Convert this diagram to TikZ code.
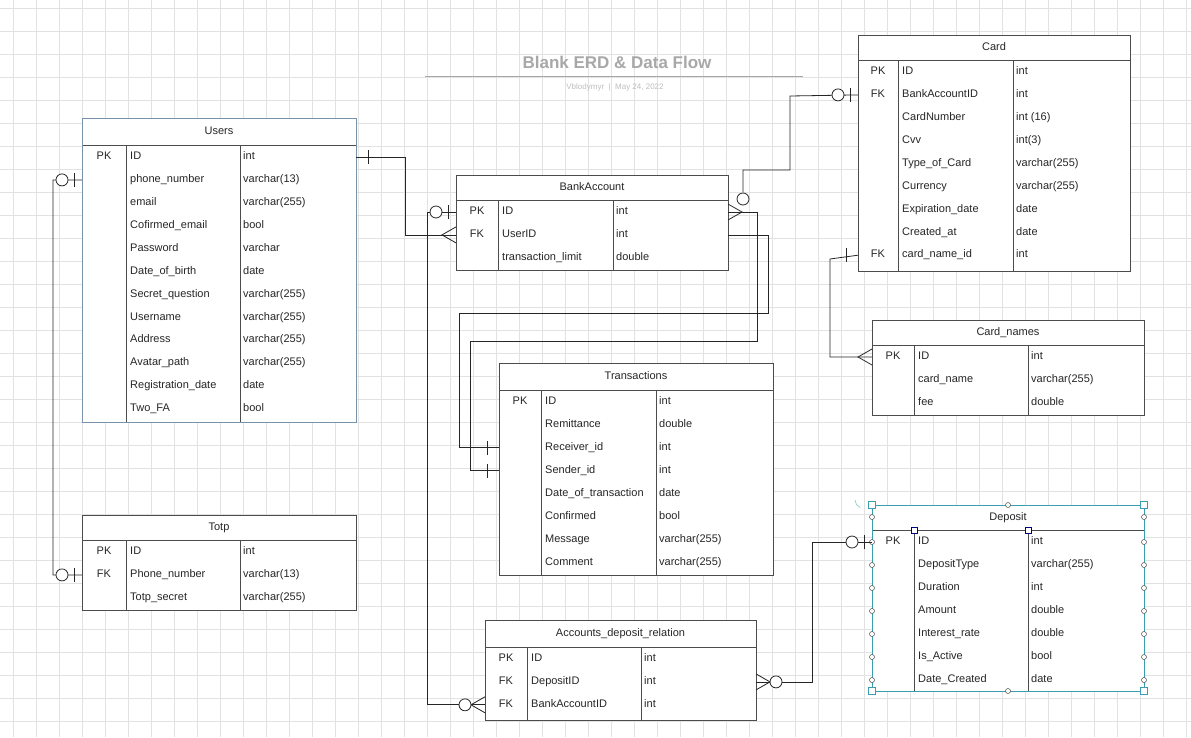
\documentclass[tikz,border=0pt]{standalone}
\usepackage{fontspec}
\setmainfont{Liberation Sans}
\begin{document}
\definecolor{gridc}{HTML}{E2E2E2}
\definecolor{ublue}{HTML}{7A93AC}
\definecolor{teal}{HTML}{3A9DB0}
\definecolor{ttl}{HTML}{A8A8A8}
\newcommand\erdtbl[9]{%
  \fill[white] (#2,#3) rectangle (#4,#5);
  \draw[tbl] (#2,#6) -- (#4,#6) (#7,#6) -- (#7,#5) (#8,#6) -- (#8,#5);
  \draw[tbl,draw=\tblcol] (#2,#3) rectangle (#4,#5);
  \node[txt] (#1) at ({(#2+#4)/2},{(#3+#6)/2}) {#9};
  \foreach \k/\n/\t [count=\i] in \rowlist {
    \pgfmathsetmacro\yy{#6+12+(\i-1)*22.9}
    \node[txt] (#1-k\i) at ({(#2+#7)/2},\yy) {\k};
    \node[txt,anchor=west] (#1-n\i) at (#7+4,\yy) {\n};
    \node[txt,anchor=west] (#1-t\i) at (#8+3,\yy) {\t};
    \coordinate (#1-L\i) at (#2,\yy);
    \coordinate (#1-R\i) at (#4,\yy);
  }}
\begin{tikzpicture}[x=1pt,y=-1pt,
  tbl/.style={draw=black!70,line width=0.8pt},
  txt/.style={font=\fontsize{11}{13}\selectfont,inner sep=0pt,text height=8pt,text depth=2.5pt,text=black!85},
  con/.style={draw=black!85,line width=0.8pt},
  zo/.pic={\draw[con] (8,-7)--(8,7); \draw[con,fill=white] (20,0) circle (6);},
  bar/.pic={\draw[con] (12,-7)--(12,7);},
  crow/.pic={\draw[con] (0,-8)--(14,0)--(0,8);},
  zm/.pic={\draw[con] (0,-8)--(14,0)--(0,8); \draw[con,fill=white] (20,0) circle (6);},
  hc/.style={draw=black!70,fill=white,line width=0.5pt},
]
\useasboundingbox (0,0) rectangle (1191,737);
\fill[white] (0,0) rectangle (1191,737);
\foreach \g in {0,...,51} {\draw[gridc,line width=0.5pt] (\g*23+13,0) -- (\g*23+13,737);}
\foreach \g in {0,...,32} {\draw[gridc,line width=0.5pt] (0,\g*23+8) -- (1191,\g*23+8);}
% title
\node[font=\bfseries\fontsize{17}{19}\selectfont,text=ttl] (title) at (617,62) {Blank ERD \& Data Flow};
\draw[ttl,line width=1pt] (425,76) -- (803,76);
\node[font=\fontsize{8}{9}\selectfont,text=black!25] (sub) at (615,87) {Vblodymyr\ \ |\ \ May 24, 2022};
% tables
\def\tblcol{ublue}
\def\rowlist{PK/ID/int, /phone\_number/varchar(13), /email/varchar(255), /Cofirmed\_email/bool, /Password/varchar, /Date\_of\_birth/date, /Secret\_question/varchar(255), /Username/varchar(255), /Address/varchar(255), /Avatar\_path/varchar(255), /Registration\_date/date, /Two\_FA/bool}
\erdtbl{U}{82}{118}{356}{422}{145}{126}{240}{Users}
\def\tblcol{black!70}
\def\rowlist{PK/ID/int, FK/Phone\_number/varchar(13), /Totp\_secret/varchar(255)}
\erdtbl{T}{82}{515}{356}{610}{540}{126}{240}{Totp}
\def\rowlist{PK/ID/int, FK/UserID/int, /transaction\_limit/double}
\erdtbl{B}{456}{175}{728}{270}{200}{498}{613}{BankAccount}
\def\rowlist{PK/ID/int, /Remittance/double, /Receiver\_id/int, /Sender\_id/int, /Date\_of\_transaction/date, /Confirmed/bool, /Message/varchar(255), /Comment/varchar(255)}
\erdtbl{Tr}{499}{363}{773}{575}{390}{541}{656}{Transactions}
\def\rowlist{PK/ID/int, FK/BankAccountID/int, /CardNumber/int (16), /Cvv/int(3), /Type\_of\_Card/varchar(255), /Currency/varchar(255), /Expiration\_date/date, /Created\_at/date, FK/card\_name\_id/int}
\erdtbl{C}{858}{35}{1130}{271}{60}{898}{1013}{Card}
\def\rowlist{PK/ID/int, /card\_name/varchar(255), /fee/double}
\erdtbl{N}{872}{320}{1144}{415}{345}{914}{1028}{Card\_names}
\def\rowlist{PK/ID/int, FK/DepositID/int, FK/BankAccountID/int}
\erdtbl{A}{485}{620}{756}{720}{647}{527}{641}{Accounts\_deposit\_relation}
\def\tblcol{teal}
\def\rowlist{PK/ID/int, /DepositType/varchar(255), /Duration/int, /Amount/double, /Interest\_rate/double, /Is\_Active/bool, /Date\_Created/date}
\erdtbl{D}{872}{505}{1144}{691}{530}{914}{1028}{Deposit}
% deposit selection handles
\foreach \yy in {517,542,565,588,611,634,657,680} {
  \draw[hc] (872,\yy) circle (2.5); \draw[hc] (1144,\yy) circle (2.5);}
\draw[hc] (1008,505) circle (2.5); \draw[hc] (1008,691) circle (2.5);
\foreach \xx/\yy in {872/505,1144/505,872/691,1144/691}
  \draw[draw=teal,fill=white,line width=0.6pt] (\xx-3.5,\yy-3.5) rectangle (\xx+3.5,\yy+3.5);
\foreach \xx in {914,1028}
  \draw[draw=blue!50!black,fill=white,line width=0.6pt] (\xx-3,530-3) rectangle (\xx+3,530+3);
\draw[teal!60,line width=0.6pt] (855,500) arc (180:110:8);
% connectors
\coordinate (u1) at (405,157);
\draw[con] (U-R1) -- (u1) |- (B-L2);
\pic at (U-R1) {bar};
\pic[rotate=180] at (B-L2) {crow};
\coordinate (u2) at (53,180);
\draw[con] (U-L2) -- (u2) |- (T-L2);
\pic[rotate=180] at (U-L2) {zo};
\pic[rotate=180] at (T-L2) {zo};
\coordinate (b1) at (427,212);
\draw[con] (B-L1) -- (b1) |- (A-L3);
\pic[rotate=180] at (B-L1) {zo};
\pic[rotate=180] at (A-L3) {zm};
\coordinate (c1) at (790,96);
\coordinate (c2) at (790,170);
\coordinate (bkc) at (743,192);
\draw[con] (C-L2) -- (c1) -- (c2) -| (bkc);
\pic[rotate=180] at (C-L2) {zo};
\draw[con,fill=white] (743,199) circle (6);
\pic at (B-R1) {crow};
\coordinate (r1) at (757,341);
\coordinate (r2) at (470,341);
\draw[con] (B-R1) -| (r1) -- (r2) |- (Tr-L4);
\coordinate (r3) at (768,313);
\coordinate (r4) at (459,313);
\draw[con] (B-R2) -| (r3) -- (r4) |- (Tr-L3);
\pic[rotate=180] at (Tr-L3) {bar};
\pic[rotate=180] at (Tr-L4) {bar};
\coordinate (n1) at (830,259);
\draw[con] (C-L9) -- (n1) |- (N-L1);
\pic[rotate=180] at (C-L9) {bar};
\pic[rotate=180] at (N-L1) {crow};
\coordinate (d1) at (812,542);
\draw[con] (D-L1) -- (d1) |- (A-R2);
\pic[rotate=180] at (D-L1) {zo};
\pic at (A-R2) {zm};
\end{tikzpicture}
\end{document}
